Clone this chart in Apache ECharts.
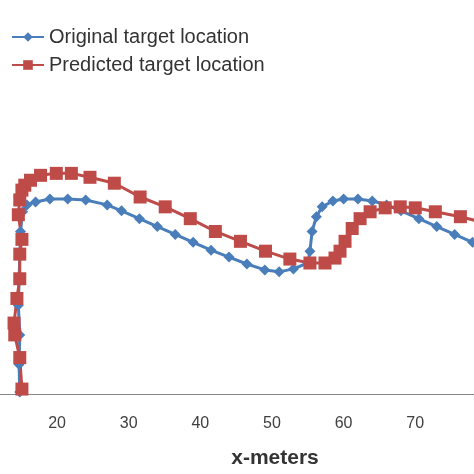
<!DOCTYPE html><html><head><meta charset="utf-8"><script src="https://cdn.jsdelivr.net/npm/echarts@6/dist/echarts.min.js"></script><style>html,body{margin:0;padding:0;background:#fff}#c{width:474px;height:474px}</style></head><body><div id="c"></div><script>
const xTicks=[20,30,40,50,60,70];
const originalXY=[[14.8,2],[14.7,30],[14.8,60],[14.6,90],[14.7,115],[14.8,140],[14.9,165],[15.2,185],[15.8,192],[17,195],[19,198],[21.5,198],[24,197],[27,192],[29,186],[31.5,178],[34,170],[36.5,162],[39,154],[41.5,146],[44,139],[46.5,132],[49,126],[51,124],[53,127],[55,133],[55.3,145],[55.6,165],[56.2,180],[57,190],[58.5,196],[60,198],[62,198],[64,196],[66,192],[68,186],[70.5,178],[73,170],[75.5,162],[78,154],[80,150]];
const predictedXY=[[15.1,5],[14.8,37],[14.1,60],[14.0,72],[14.4,97],[14.8,117],[14.8,142],[15.1,157],[14.6,182],[14.8,197],[15.1,207],[15.5,212],[16.3,217],[17.7,222],[19.9,224],[22,224],[24.6,220],[28,214],[31.6,200],[35.1,190],[38.6,178],[42.1,165],[45.6,155],[49.1,145],[52.5,137],[55.3,133],[57.4,133],[58.8,138],[59.5,145],[60.2,155],[61.2,168],[62.3,178],[63.7,185],[65.8,189],[67.9,190],[70,189],[72.8,185],[76.3,180],[79,175]];
const c=echarts.init(document.getElementById('c'));
c.setOption({animation:false,
legend:{left:6,top:22,itemWidth:32,itemHeight:12,itemGap:8,textStyle:{fontFamily:'Liberation Sans',fontSize:20,color:'#333'},data:['Original target location','Predicted target location']},
grid:{left:0,right:0,top:0,bottom:72,containLabel:false},
xAxis:{type:'value',min:12.04,max:78.2,axisLine:{lineStyle:{color:'#868686'}},axisTick:{show:false},splitLine:{show:false},
 axisLabel:{customValues:xTicks,margin:22,fontSize:16,color:'#404040',fontFamily:'Liberation Sans'},
 name:'x-meters',nameLocation:'middle',nameGap:54,nameTextStyle:{fontSize:21,fontWeight:'bold',color:'#333',fontFamily:'Liberation Sans',padding:[0,0,0,76]}},
yAxis:{type:'value',min:0,max:400,show:false},
series:[
{name:'Original target location',type:'line',data:originalXY,symbol:'diamond',symbolSize:11,color:'#4a7ebb',lineStyle:{width:3},clip:true},
{name:'Predicted target location',type:'line',data:predictedXY,symbol:'rect',symbolSize:13,color:'#be4b48',lineStyle:{width:3},clip:true}
]});
</script></body></html>
